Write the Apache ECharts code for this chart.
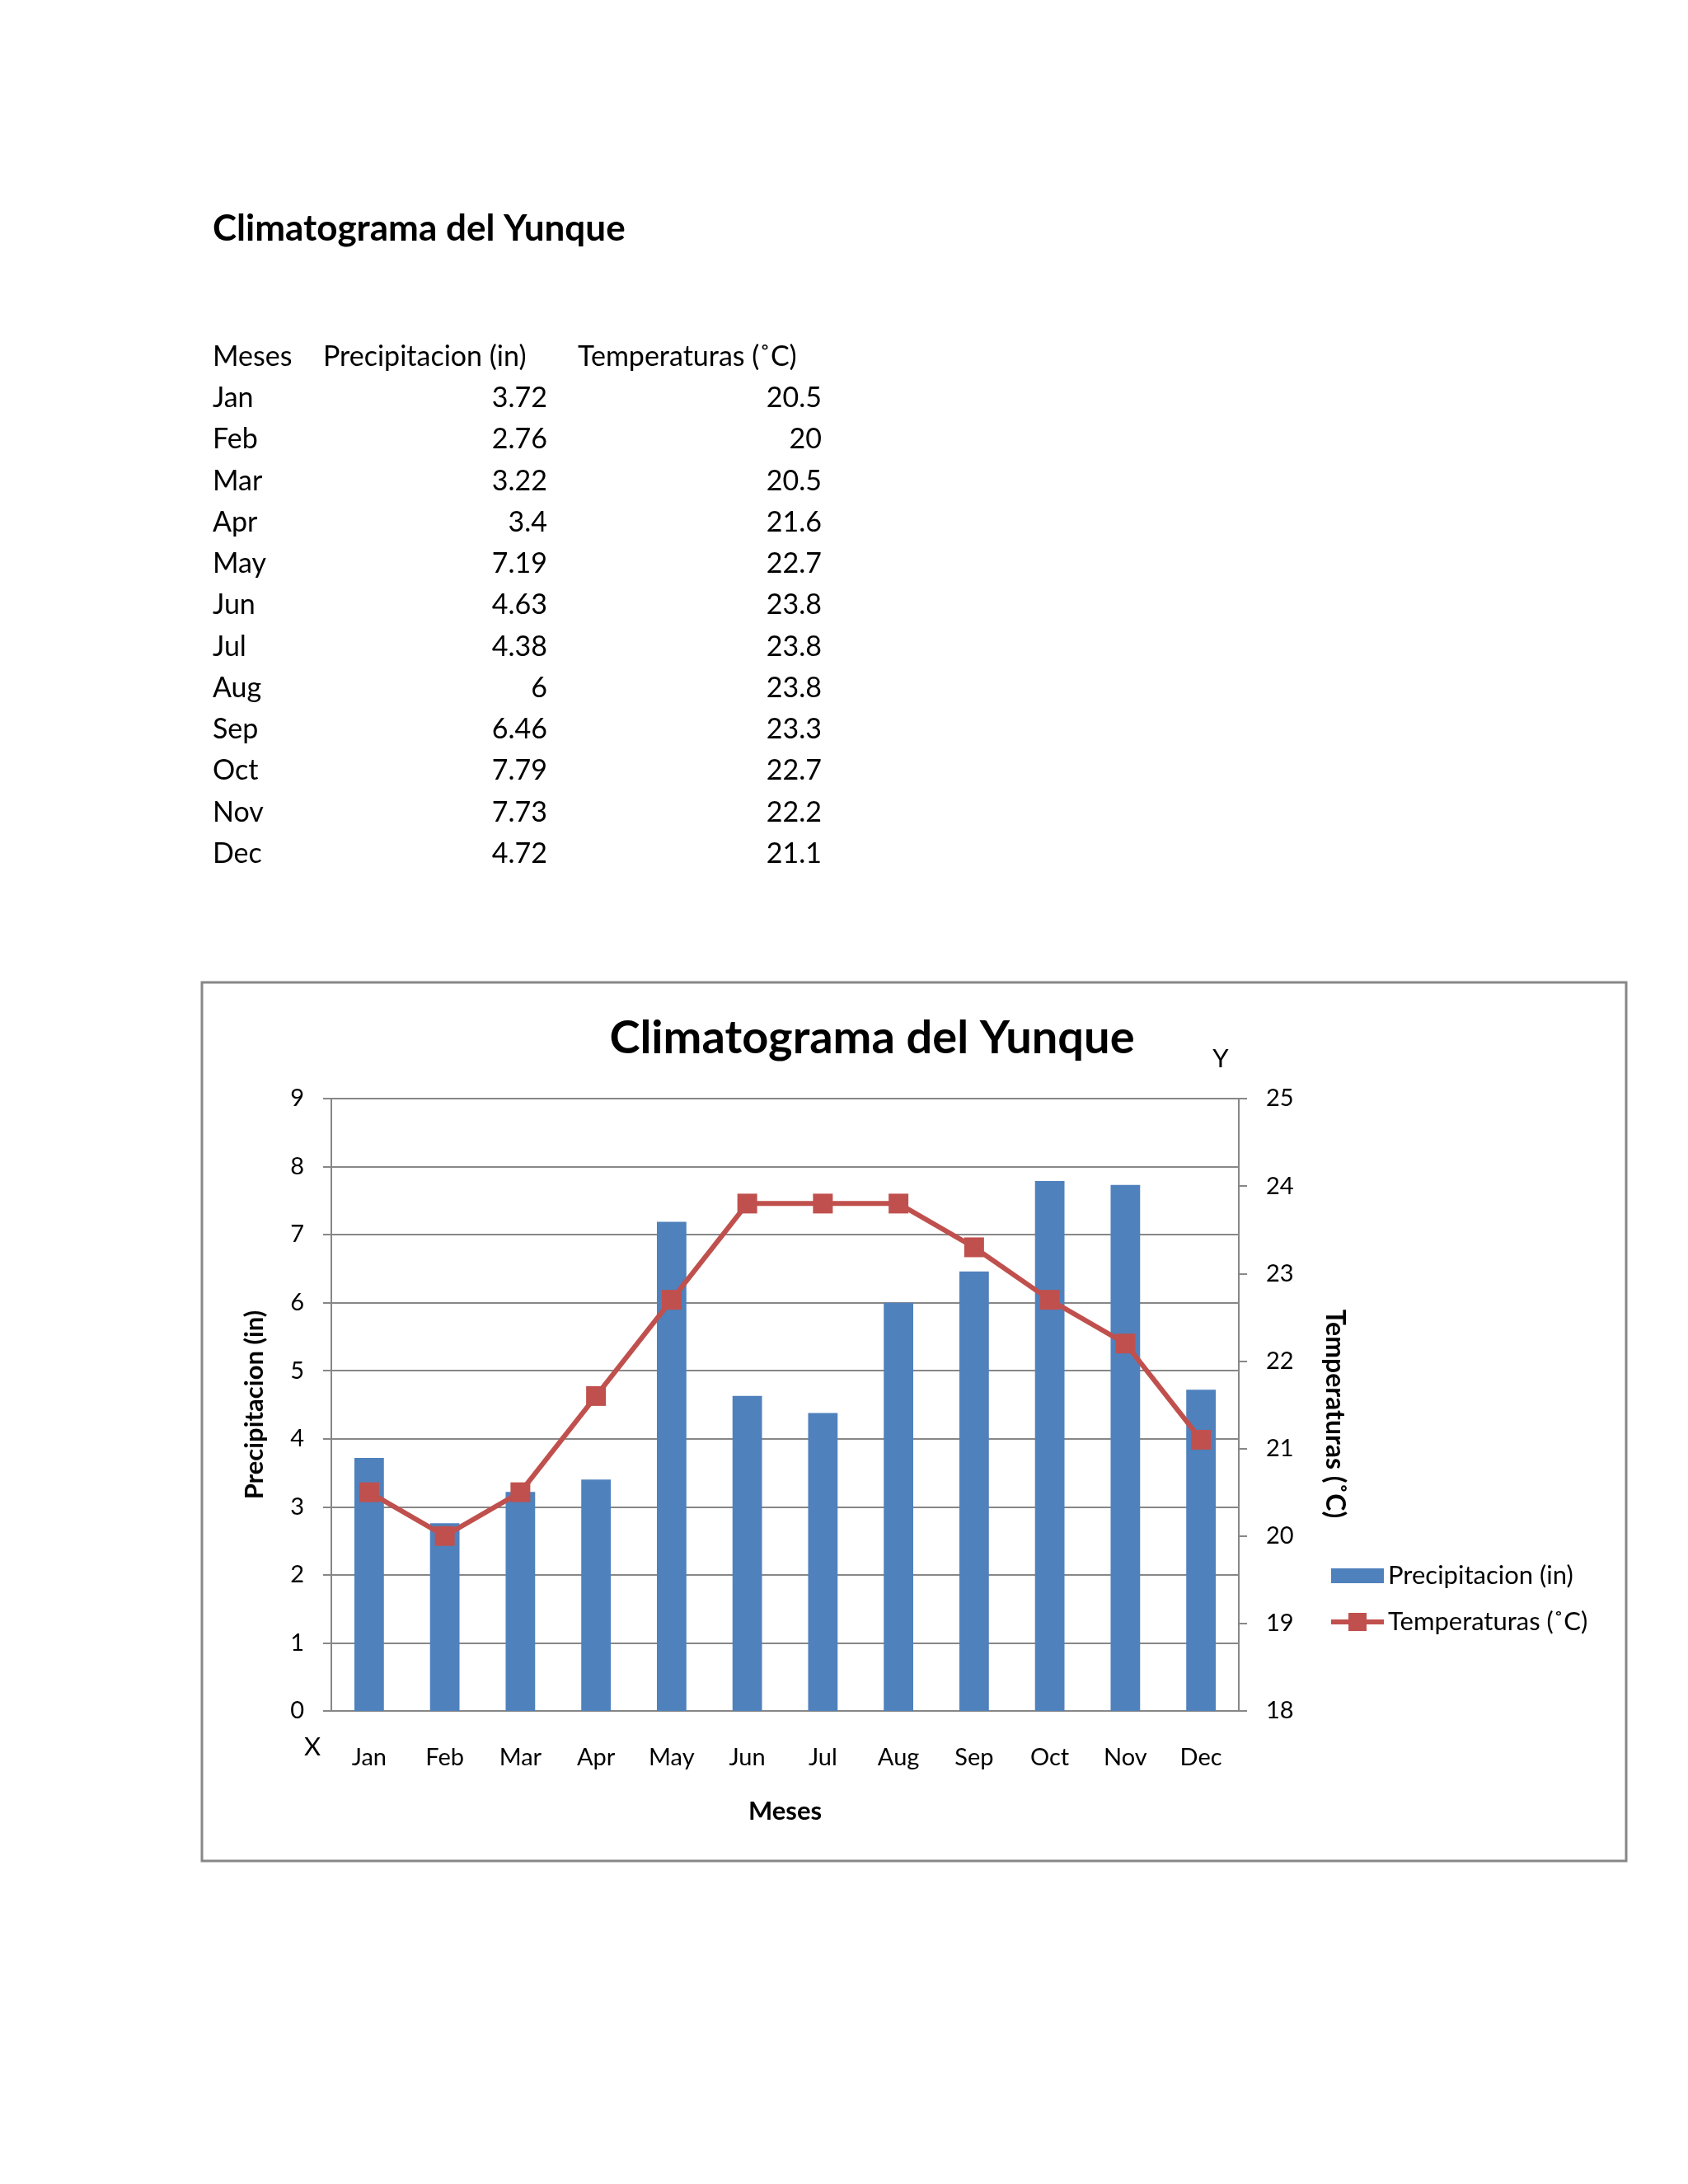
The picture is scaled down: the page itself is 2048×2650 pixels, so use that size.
<!DOCTYPE html>
<html>
<head>
<meta charset="utf-8">
<title>Climatograma del Yunque</title>
<script src="https://cdn.jsdelivr.net/npm/echarts@6/dist/echarts.min.js"></script>
<style>
  html, body { margin: 0; padding: 0; background: #ffffff; }
  #chart_page { width: 2048px; height: 2650px; }
</style>
</head>
<body>
<div id="chart_page"></div>
<script>
  // datos del climatograma
  var meses = ['Jan', 'Feb', 'Mar', 'Apr', 'May', 'Jun', 'Jul', 'Aug', 'Sep', 'Oct', 'Nov', 'Dec'];
  var precipitacion = [3.72, 2.76, 3.22, 3.4, 7.19, 4.63, 4.38, 6, 6.46, 7.79, 7.73, 4.72];
  var temperaturas = [20.5, 20, 20.5, 21.6, 22.7, 23.8, 23.8, 23.8, 23.3, 22.7, 22.2, 21.1];
  var encabezados = ['Meses', 'Precipitacion (in)', 'Temperaturas (˚C)'];

  var fuente = 'Lato';
  var gris = '#878787';
  var letraTabla = '34px ' + fuente;

  // tabla de arriba (texto)
  var tabla = [];
  var filaY0 = 433, filaPaso = 50.25;
  var encX = [258, 392, 701];
  for (var h = 0; h < encabezados.length; h++) {
    tabla.push({
      type: 'text', x: encX[h], y: filaY0,
      style: { text: encabezados[h], fill: '#000', font: letraTabla, verticalAlign: 'middle', align: 'left' }
    });
  }
  for (var i = 0; i < meses.length; i++) {
    var y = filaY0 + (i + 1) * filaPaso;
    tabla.push({ type: 'text', x: 258, y: y,
      style: { text: meses[i], fill: '#000', font: letraTabla, verticalAlign: 'middle', align: 'left' } });
    tabla.push({ type: 'text', x: 664, y: y,
      style: { text: String(precipitacion[i]), fill: '#000', font: letraTabla, verticalAlign: 'middle', align: 'right' } });
    tabla.push({ type: 'text', x: 997, y: y,
      style: { text: String(temperaturas[i]), fill: '#000', font: letraTabla, verticalAlign: 'middle', align: 'right' } });
  }
  /*marco del grafico*/
  tabla.push({ type: 'rect', shape: { x: 245, y: 1192, width: 1728, height: 1066 },
    style: { fill: 'none', stroke: gris, lineWidth: 3 }, z: -1 });
  /*X e Y sueltas*/
  tabla.push({ type: 'text', x: 379, y: 2120,
    style: { text: 'X', fill: '#000', font: '31px ' + fuente, verticalAlign: 'middle', align: 'center' } });
  tabla.push({ type: 'text', x: 1481, y: 1285,
    style: { text: 'Y', fill: '#000', font: '31px ' + fuente, verticalAlign: 'middle', align: 'center' } });

  var myChart = echarts.init(document.getElementById('chart_page'));
  var option = {
    backgroundColor: '#ffffff',
    animation: false,
    textStyle: { fontFamily: fuente },
    title: [
      {
        text: 'Climatograma del Yunque',
        left: 258, top: 256, padding: 0,
        textStyle: { fontSize: 44, fontWeight: 'bold', color: '#000', fontFamily: fuente }
      },
      {
        text: 'Climatograma del Yunque',
        left: 1058, top: 1232, padding: 0, textAlign: 'center',
        textStyle: { fontSize: 56, fontWeight: 'bold', color: '#000', fontFamily: fuente }
      }
    ],
    legend: {
      orient: 'vertical',
      left: 1610, top: 1889,
      itemWidth: 64, itemHeight: 24, itemGap: 20,
      textStyle: { fontSize: 31, color: '#000', fontFamily: fuente, lineHeight: 36 },
      data: [
        { name: 'Precipitacion (in)', icon: 'path://M0,0 L64,0 L64,18 L0,18 Z' },
        { name: 'Temperaturas (˚C)', icon: 'path://M0,9 L21,9 L21,1 L43,1 L43,9 L64,9 L64,15 L43,15 L43,23 L21,23 L21,15 L0,15 Z' }
      ]
    },
    grid: { left: 402, right: 545, top: 1333, bottom: 574, containLabel: false },
    xAxis: [
      {
        type: 'category',
        data: meses,
        name: 'Meses',
        nameLocation: 'middle',
        nameGap: 106,
        nameTextStyle: { fontSize: 31, fontWeight: 'bold', color: '#000' },
        axisLine: { lineStyle: { color: gris, width: 2 } },
        axisTick: { show: false },
        axisLabel: { fontSize: 29, color: '#000', margin: 42 }
      }
    ],
    yAxis: [
      {
        type: 'value',
        min: 0, max: 9, interval: 1,
        name: 'Precipitacion (in)',
        nameLocation: 'middle',
        nameGap: 78,
        nameTextStyle: { fontSize: 31, fontWeight: 'bold', color: '#000' },
        axisLine: { show: true, lineStyle: { color: gris, width: 2 } },
        axisTick: { show: true, length: 10, lineStyle: { color: gris, width: 2 } },
        axisLabel: { fontSize: 29, color: '#000', margin: 33 },
        splitLine: { show: true, lineStyle: { color: gris, width: 2 } }
      },
      {
        type: 'value',
        min: 18, max: 25, interval: 1,
        position: 'right',
        name: 'Temperaturas (˚C)',
        nameLocation: 'middle',
        nameRotate: -90,
        nameGap: 100,
        nameTextStyle: { fontSize: 32, fontWeight: 'bold', color: '#000', padding: [0, 0, 0, 22] },
        axisLine: { show: true, lineStyle: { color: gris, width: 2 } },
        axisTick: { show: true, length: 10, lineStyle: { color: gris, width: 2 } },
        axisLabel: { fontSize: 29, color: '#000', margin: 33 },
        splitLine: { show: false }
      }
    ],
    series: [
      {
        name: 'Precipitacion (in)',
        type: 'bar',
        barWidth: '39%',
        data: precipitacion,
        itemStyle: { color: '#4F81BD' }
      },
      {
        name: 'Temperaturas (˚C)',
        type: 'line',
        yAxisIndex: 1,
        data: temperaturas,
        symbol: 'rect',
        symbolSize: 24,
        lineStyle: { color: '#C0504D', width: 6 },
        itemStyle: { color: '#C0504D' }
      }
    ],
    graphic: tabla
  };
  myChart.setOption(option);
  window.addEventListener('resize', function () { myChart.resize(); });
</script>
</body>
</html>
